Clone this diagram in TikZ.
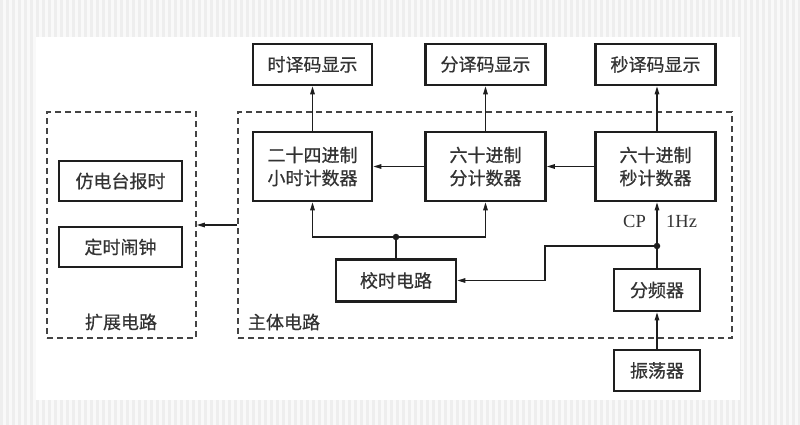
\documentclass[tikz,border=0pt]{standalone}
\usepackage{fontspec}
\newfontfamily\cjk[FakeBold=0.6]{Noto Sans CJK SC}
\newfontfamily\lat{Liberation Serif}
\usetikzlibrary{arrows.meta,calc}
\definecolor{ink}{HTML}{1E1E1E}
\definecolor{txt}{HTML}{333333}
\definecolor{dsh}{HTML}{444444}
\tikzset{
  blk/.style={draw=ink,line width=2.6pt,inner sep=0pt,text=txt,font=\cjk\fontsize{18}{23}\selectfont,align=center},
  dbox/.style={draw=dsh,line width=1.6pt,dash pattern=on 6pt off 4pt,inner sep=0pt},
  arr/.style={draw=ink,line width=1.3pt,-{Triangle[length=8pt,width=4.5pt]}},
  ln/.style={draw=ink,line width=1.3pt},
  lbl/.style={text=txt,font=\cjk\fontsize{18}{23}\selectfont,inner sep=0pt},
  elbl/.style={text=txt,font=\lat\fontsize{18.5}{20}\selectfont,inner sep=0pt},
  dot/.style={circle,fill=ink,inner sep=0pt,minimum size=6.5pt}
}
\begin{document}
\begin{tikzpicture}[x=1pt,y=-1pt]
\useasboundingbox (0,0) rectangle (800,425);
% background
\fill[gray!5] (0,0) rectangle (800,425);
\foreach \x in {0,6,...,798} \fill[gray!13] (\x,0) rectangle (\x+2.5,425);
\fill[white] (36,37) rectangle (740,400);

% dashed groups
\node[dbox,minimum width=149pt,minimum height=226pt] (ext) at (121.5,225) {};
\node[dbox,minimum width=494pt,minimum height=226pt] (main) at (485,225) {};
\node[lbl] (extl) at (121,322) {扩展电路};
\node[lbl] (mainl) at (284,322) {主体电路};

% display boxes
\node[blk,minimum width=119pt,minimum height=41pt] (hdisp) at (312.5,64.5) {时译码显示};
\node[blk,minimum width=120pt,minimum height=41pt] (mdisp) at (485.5,64.5) {分译码显示};
\node[blk,minimum width=120pt,minimum height=41pt] (sdisp) at (655.5,64.5) {秒译码显示};

% counters
\node[blk,minimum width=119pt,minimum height=69pt] (hcnt) at (312.5,166.5) {二十四进制\\小时计数器};
\node[blk,minimum width=120pt,minimum height=69pt] (mcnt) at (485.5,166.5) {六十进制\\分计数器};
\node[blk,minimum width=120pt,minimum height=69pt] (scnt) at (655.5,166.5) {六十进制\\秒计数器};

% others
\node[blk,minimum width=120pt,minimum height=42pt] (jiao) at (396,280.5) {校时电路};
\node[blk,minimum width=86pt,minimum height=42pt] (fenp) at (657,290) {分频器};
\node[blk,minimum width=86pt,minimum height=41pt] (zhen) at (657,370.5) {振荡器};
\node[blk,minimum width=123pt,minimum height=40pt] (fang) at (120.5,181) {仿电台报时};
\node[blk,minimum width=123pt,minimum height=40pt] (ding) at (120.5,247) {定时闹钟};

% connectors
\draw[arr] (hcnt.north) -- (hdisp.south);
\draw[arr] (mcnt.north) -- (mdisp.south);
\draw[arr] (scnt.north -| fenp.north) -- (sdisp.south -| fenp.north);
\draw[arr] (scnt.west) -- (mcnt.east);
\draw[arr] (mcnt.west) -- (hcnt.east);

\coordinate (jt) at (396,237);
\node[dot] (j1) at (jt) {};
\draw[ln] (jiao.north) -- (j1.center);
\draw[arr] (j1.center) -| (hcnt.south);
\draw[arr] (j1.center) -| (mcnt.south);

\coordinate (cp) at (657,246);
\node[dot] (j2) at (cp) {};
\draw[ln] (fenp.north) -- (j2.center);
\draw[arr] (j2.center) -- (scnt.south -| j2.center);
\coordinate (b1) at (545,246);
\coordinate (b2) at (545,280.5);
\draw[arr] (j2.center) -- (b1) -- (b2) -- (jiao.east);
\draw[arr] (zhen.north) -- (fenp.south);
\draw[arr] (main.west) -- (ext.east);

\node[elbl,anchor=east] (cpl) at (646,221) {CP};
\node[elbl,anchor=west] (hzl) at (666,221) {1Hz};
\end{tikzpicture}
\end{document}
